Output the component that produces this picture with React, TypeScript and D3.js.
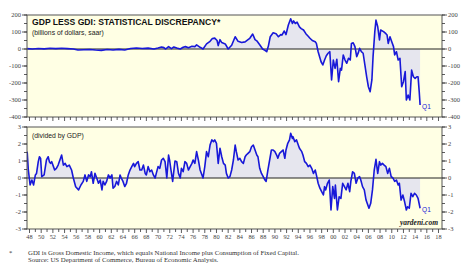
import React from "react";
import * as d3 from "d3";

// GDP less GDI, billions of dollars (saar)
const topYears = [
  1947.6, 1948.5, 1949.5, 1950.5, 1951.5, 1952.5, 1953.5, 1954.5, 1955.5, 1956.3,
  1957.3, 1958.3, 1959.3, 1960.3, 1961.3, 1962.3, 1963.3, 1964.3, 1965.3, 1966.3,
  1967.3, 1968.3, 1969.3, 1970.0, 1970.6, 1971.0, 1971.3, 1971.8, 1972.3, 1972.7,
  1973.2, 1973.8, 1974.3, 1974.7, 1975.2, 1975.8, 1976.3, 1976.6, 1977.2, 1977.7,
  1978.3, 1978.9, 1979.3, 1979.7, 1980.1, 1980.3, 1980.6, 1980.9, 1981.5, 1982.0,
  1982.6, 1983.2, 1983.7, 1984.3, 1984.9, 1985.4, 1985.7, 1986.2, 1986.6, 1986.9,
  1987.4, 1987.9, 1988.3, 1988.6, 1988.9, 1989.2, 1989.7, 1990.2, 1990.6, 1991.0,
  1991.2, 1991.6, 1991.9, 1992.3, 1992.7, 1993.0, 1993.2, 1993.5, 1993.8, 1994.2,
  1994.5, 1994.9, 1995.3, 1995.7, 1996.0, 1996.4, 1996.9, 1997.1, 1997.4, 1997.9,
  1998.2, 1998.5, 1998.8, 1999.1, 1999.4, 1999.7, 2000.0, 2000.3, 2000.6, 2000.9,
  2001.2, 2001.4, 2001.7, 2002.0, 2002.3, 2002.6, 2002.9, 2003.1, 2003.4, 2003.7,
  2004.0, 2004.3, 2004.5, 2004.8, 2005.1, 2005.4, 2005.7, 2006.0, 2006.3, 2006.6,
  2006.8, 2007.1, 2007.3, 2007.6, 2007.9, 2008.1, 2008.6, 2009.0, 2009.2, 2009.4,
  2009.7, 2010.0, 2010.3, 2010.5, 2010.8, 2011.1, 2011.4, 2011.7, 2012.0, 2012.3,
  2012.5, 2012.8, 2013.1, 2013.4, 2013.7, 2014.0, 2014.3, 2014.5, 2014.7, 2014.85,
];
const topValues = [
  2, 0, 3, 1, 4, 2, 4, 2, 0, -6,
  -4, -3, -6, -8, -3, -6, -2, -6, 3, 6,
  3, 5, 0, 6, 12, 8, 0, 14, 2, 12,
  6, 0, 10, 14, 8, 16, 14, 24, 10, 0,
  30, 45, 62, 64, 50, 20, 55, 38, 30, 0,
  22, 72, 45, 38, 42, 55, 63, 88, 55, 48,
  25, 0, -8, -16, 20, 72, 95, 90, 72, 85,
  82, 106, 85, 141, 178, 150, 165, 150, 158, 130,
  120, 112, 90, 75, 63, 50, 43, 33, -16, -75,
  -94, -65, -40, -25, -16, -182, -65, -114, -60, -192,
  -114, -124, -35, -65, -84, -55, -65, 33, 37, 14,
  -45, -20, 4, -16, -25, -94, -163, -222, -251, -182,
  -45, 102, 170, 131, 53, 112, 102, 90, 82, 33,
  72, 43, 14, -35, -16, -65, -55, -222, -192, -133,
  -300, -271, -300, -124, -163, -173, -163, -163, -251, -329,
];

// Same discrepancy as a percent of GDP
const bottomYears = [
  1947.6, 1947.8, 1948.1, 1948.4, 1948.7, 1949.0, 1949.2, 1949.5, 1949.7, 1949.9,
  1950.1, 1950.5, 1950.9, 1951.2, 1951.4, 1951.6, 1951.8, 1952.1, 1952.3, 1952.6,
  1952.9, 1953.2, 1953.5, 1953.8, 1954.1, 1954.4, 1954.8, 1955.2, 1955.5, 1955.9,
  1956.4, 1956.8, 1957.2, 1957.5, 1957.8, 1958.1, 1958.4, 1958.6, 1958.9, 1959.2,
  1959.5, 1959.8, 1960.1, 1960.4, 1960.6, 1960.9, 1961.2, 1961.5, 1961.8, 1962.1,
  1962.3, 1962.6, 1962.9, 1963.2, 1963.5, 1963.7, 1964.0, 1964.3, 1964.6, 1964.9,
  1965.2, 1965.5, 1965.8, 1966.0, 1966.3, 1966.6, 1966.9, 1967.2, 1967.5, 1967.8,
  1968.0, 1968.3, 1968.6, 1968.9, 1969.2, 1969.5, 1969.7, 1970.0, 1970.3, 1970.6,
  1970.9, 1971.2, 1971.5, 1971.8, 1972.0, 1972.2, 1972.5, 1972.9, 1973.2, 1973.5,
  1973.8, 1974.0, 1974.3, 1974.6, 1974.9, 1975.2, 1975.5, 1975.8, 1976.0, 1976.3,
  1976.6, 1976.9, 1977.2, 1977.7, 1978.0, 1978.3, 1978.6, 1978.9, 1979.2, 1979.5,
  1979.7, 1980.0, 1980.3, 1980.6, 1980.9, 1981.2, 1981.5, 1981.7, 1982.0, 1982.3,
  1982.6, 1982.9, 1983.2, 1983.4, 1983.7, 1984.0, 1984.3, 1984.6, 1984.9, 1985.1,
  1985.4, 1985.7, 1986.0, 1986.3, 1986.6, 1986.9, 1987.1, 1987.4, 1987.7, 1988.0,
  1988.3, 1988.5, 1988.8, 1989.2, 1989.4, 1989.7, 1990.0, 1990.3, 1990.5, 1990.8,
  1991.1, 1991.4, 1991.7, 1991.9, 1992.2, 1992.5, 1992.7, 1993.0, 1993.1, 1993.4,
  1993.7, 1994.0, 1994.2, 1994.6, 1994.8, 1995.1, 1995.4, 1995.7, 1996.0, 1996.3,
  1996.6, 1996.9, 1997.1, 1997.4, 1997.7, 1998.0, 1998.3, 1998.5, 1998.7, 1999.0,
  1999.3, 1999.6, 1999.9, 2000.2, 2000.35, 2000.7, 2001.0, 2001.3, 2001.6, 2001.9,
  2002.2, 2002.5, 2002.8, 2003.0, 2003.3, 2003.6, 2003.9, 2004.2, 2004.5, 2004.7,
  2005.0, 2005.3, 2005.6, 2005.9, 2006.1, 2006.4, 2006.7, 2007.0, 2007.3, 2007.6,
  2007.9, 2008.1, 2008.4, 2008.7, 2009.0, 2009.3, 2009.6, 2009.9, 2010.2, 2010.5,
  2010.8, 2011.1, 2011.3, 2011.6, 2011.9, 2012.2, 2012.5, 2012.7, 2013.0, 2013.3,
  2013.6, 2013.9, 2014.2, 2014.5, 2014.85,
];
const bottomValues = [
  1.55, 0.47, -0.41, -0.12, -0.41, 0.18, 0.27, 0.96, 1.25, 1.15,
  0.08, 0.18, 1.06, 1.25, 0.96, 0.86, 0.96, 0.67, 0.47, 0.57,
  0.76, 1.06, 1.35, 0.76, 0.86, 0.67, 0.76, 0.47, 0.0, -0.51,
  -0.7, -0.41, -0.2, 0.18, -0.2, 0.18, 0.08, 0.37, -0.31, 0.27,
  0.0, -0.31, -0.12, -0.7, -0.2, -0.41, -0.2, 0.18, 0.0, 0.18,
  -0.6, -0.5, -0.2, -0.41, 0.18, 0.0, -0.2, -0.5, -0.31, 0.18,
  0.47, 0.67, 0.86, 0.67, 0.86, 0.96, 0.47, 0.47, 0.76, 0.27,
  0.18, 0.67, 0.37, 0.47, 0.18, 0.0, 0.27, 0.67, 0.57, 1.06,
  1.16, 0.96, 0.0, 1.35, 1.0, 0.5, -0.2, 1.0, 0.96, 0.27,
  0.0, 0.57, 0.37, 0.96, 0.86, 0.47, 0.67, 0.86, 1.06, 0.86,
  1.55, 1.06, 0.47, 0.0, 0.67, 1.55, 1.25, 1.94, 2.24, 2.14,
  2.24, 2.04, 0.86, 1.75, 1.25, 0.86, 0.76, 0.27, 0.0, 0.08,
  0.47, 1.06, 1.94, 1.55, 1.06, 1.16, 0.96, 0.86, 1.25, 1.35,
  1.45, 1.55, 1.84, 1.94, 1.65, 1.35, 1.25, 0.57, 0.27, 0.08,
  -0.12, -0.2, 0.47, 1.25, 1.65, 1.65, 1.55, 1.35, 1.16, 1.45,
  1.55, 1.65, 1.16, 1.65, 2.04, 2.24, 2.63, 2.33, 2.43, 2.14,
  2.24, 1.94, 1.75, 1.55, 1.35, 0.96, 0.86, 0.67, 0.76, 0.57,
  0.27, 0.47, 0.18, -0.31, -0.6, -0.8, -1.0, -0.51, -0.7, -0.31,
  -0.12, -1.88, -0.51, -1.2, -0.41, -1.88, -1.1, -1.2, -0.31, -0.51,
  -0.7, -0.31, -0.8, -0.2, 0.37, 0.27, -0.31, 0.0, 0.08, -0.12,
  -0.51, -0.7, -1.3, -1.59, -1.78, -1.49, -0.7, 0.47, 1.1, 0.27,
  0.96, 0.76, 0.86, 0.76, 0.67, 0.27, 0.57, 0.08, 0.0, -0.2,
  -0.12, -0.41, -0.31, -1.3, -1.0, -1.4, -1.88, -1.69, -1.78, -0.9,
  -1.1, -0.9, -1.0, -1.2, -1.78,
];

const topTicks = [200, 100, 0, -100, -200, -300, -400];
const bottomTicks = [3, 2, 1, 0, -1, -2, -3];
const yearLabels = [
  "48", "50", "52", "54", "56", "58", "60", "62", "64", "66", "68", "70",
  "72", "74", "76", "78", "80", "82", "84", "86", "88", "90", "92", "94",
  "96", "98", "00", "02", "04", "06", "08", "10", "12", "14", "16", "18",
];

const W = 474;
const H = 276;
const L = 27;
const R = 442;
const LINE = "#1818d8";
const BG = "#ffffe4";
const FILL = "#e6e6ee";
const AXIS = "#333";
const SERIF = "'Liberation Serif', 'Times New Roman', serif";
const SANS = "'Liberation Sans', Arial, sans-serif";

const x = d3.scaleLinear().domain([1947.57, 2018.6]).range([L, R]);
const years = d3.range(1948, 2019);

type PanelProps = {
  top: number;
  bottom: number;
  domain: [number, number];
  ticks: number[];
  minorStep: number;
  xs: number[];
  ys: number[];
  fmt: (v: number) => string;
};

function Panel({ top, bottom, domain, ticks, minorStep, xs, ys, fmt }: PanelProps) {
  const y = d3.scaleLinear().domain(domain).range([bottom, top]);
  const pts: [number, number][] = xs.map((d, i) => [d, ys[i]]);
  const line = d3
    .line<[number, number]>()
    .x((d) => x(d[0]))
    .y((d) => y(d[1]));
  const area = d3
    .area<[number, number]>()
    .x((d) => x(d[0]))
    .y0(y(0))
    .y1((d) => y(d[1]));
  const minors = d3.range(domain[0], domain[1] + minorStep / 2, minorStep);
  const clipId = `clip-${top}`;
  return (
    <g>
      <defs>
        <clipPath id={clipId}>
          <rect x={L} y={top} width={R - L} height={bottom - top} />
        </clipPath>
      </defs>
      <rect x={L} y={top} width={R - L} height={bottom - top} fill={BG} />
      <g clipPath={`url(#${clipId})`}>
        <path d={area(pts) ?? ""} fill={FILL} />
        <line x1={L} x2={R} y1={y(0)} y2={y(0)} stroke="#222" strokeWidth={1} />
        <path
          d={line(pts) ?? ""}
          fill="none"
          stroke={LINE}
          strokeWidth={1.6}
          strokeLinejoin="round"
        />
      </g>
      <rect
        x={L}
        y={top}
        width={R - L}
        height={bottom - top}
        fill="none"
        stroke="#555"
        strokeWidth={1}
      />
      {/* minor ticks, both sides */}
      {minors.map((v) => (
        <g key={`m${v}`} stroke={AXIS} strokeWidth={0.8}>
          <line x1={L - 3} x2={L} y1={y(v)} y2={y(v)} />
          <line x1={R} x2={R + 3} y1={y(v)} y2={y(v)} />
        </g>
      ))}
      {ticks.map((v) => (
        <g key={`t${v}`}>
          <line x1={L - 5} x2={L} y1={y(v)} y2={y(v)} stroke={AXIS} strokeWidth={0.8} />
          <line x1={R} x2={R + 5} y1={y(v)} y2={y(v)} stroke={AXIS} strokeWidth={0.8} />
          <text
            x={L - 6}
            y={y(v)}
            dy="0.33em"
            textAnchor="end"
            fontFamily={SERIF}
            fontSize={6.5}
            fill="#444"
          >
            {fmt(v)}
          </text>
          <text
            x={R + 6}
            y={y(v)}
            dy="0.33em"
            textAnchor="start"
            fontFamily={SERIF}
            fontSize={6.5}
            fill="#444"
          >
            {fmt(v)}
          </text>
        </g>
      ))}
      {/* year ticks along the bottom edge */}
      {years.map((yr) => (
        <line
          key={`y${yr}`}
          x1={x(yr)}
          x2={x(yr)}
          y1={bottom}
          y2={bottom + (yr % 2 === 0 ? 4 : 3)}
          stroke={AXIS}
          strokeWidth={0.8}
        />
      ))}
    </g>
  );
}

export default function App() {
  const fmtTop = (v: number) => (v < 0 ? `-${Math.abs(v)}` : `${v}`);
  const fmtBottom = (v: number) => (v < 0 ? `-${Math.abs(v)}` : `${v}`);
  const yTopEnd = d3.scaleLinear().domain([-400, 200]).range([117, 15]);
  const yBotEnd = d3.scaleLinear().domain([-3, 3]).range([229, 127]);
  const lastTop = topValues[topValues.length - 1];
  const lastBot = bottomValues[bottomValues.length - 1];
  const lastYear = topYears[topYears.length - 1];
  return (
    <svg width={W} height={H} style={{ display: "block", position: "absolute", left: 0, top: 0 }}>
      <rect width={W} height={H} fill="#fff" />
      <Panel
        top={15}
        bottom={117}
        domain={[-400, 200]}
        ticks={topTicks}
        minorStep={50}
        xs={topYears}
        ys={topValues}
        fmt={fmtTop}
      />
      <Panel
        top={127}
        bottom={229}
        domain={[-3, 3]}
        ticks={bottomTicks}
        minorStep={0.5}
        xs={bottomYears}
        ys={bottomValues}
        fmt={fmtBottom}
      />
      <text x={32} y={25} fontFamily={SANS} fontWeight="bold" fontSize={8.6} fill="#111">
        GDP LESS GDI: STATISTICAL DISCREPANCY*
      </text>
      <text x={32} y={34.5} fontFamily={SANS} fontSize={6.8} fill="#222">
        (billions of dollars, saar)
      </text>
      <text x={32} y={138} fontFamily={SANS} fontSize={6.8} fill="#222">
        (divided by GDP)
      </text>
      <text
        x={x(lastYear) + 2}
        y={yTopEnd(lastTop) + 2}
        dy="0.33em"
        fontFamily={SANS}
        fontSize={6.5}
        fill={LINE}
      >
        Q1
      </text>
      <text
        x={x(lastYear) + 2}
        y={yBotEnd(lastBot) + 2}
        dy="0.33em"
        fontFamily={SANS}
        fontSize={6.5}
        fill={LINE}
      >
        Q1
      </text>
      <text
        x={438}
        y={225}
        textAnchor="end"
        fontFamily={SERIF}
        fontStyle="italic"
        fontWeight="bold"
        fontSize={7.5}
        fill="#222"
      >
        yardeni.com
      </text>
      {yearLabels.map((lab, i) => (
        <text
          key={lab + i}
          x={x(1948 + i * 2)}
          y={239}
          textAnchor="middle"
          fontFamily={SERIF}
          fontSize={6.3}
          fill="#444"
        >
          {lab}
        </text>
      ))}
      <text x={9} y={254.5} fontFamily={SERIF} fontSize={6.5} fill="#333">
        *
      </text>
      <text x={28} y={254.5} fontFamily={SERIF} fontSize={6.8} fill="#333">
        GDI is Gross Domestic Income, which equals National Income plus Consumption of Fixed Capital.
      </text>
      <text x={28} y={261.5} fontFamily={SERIF} fontSize={6.8} fill="#333">
        Source: US Department of Commerce, Bureau of Economic Analysis.
      </text>
    </svg>
  );
}
